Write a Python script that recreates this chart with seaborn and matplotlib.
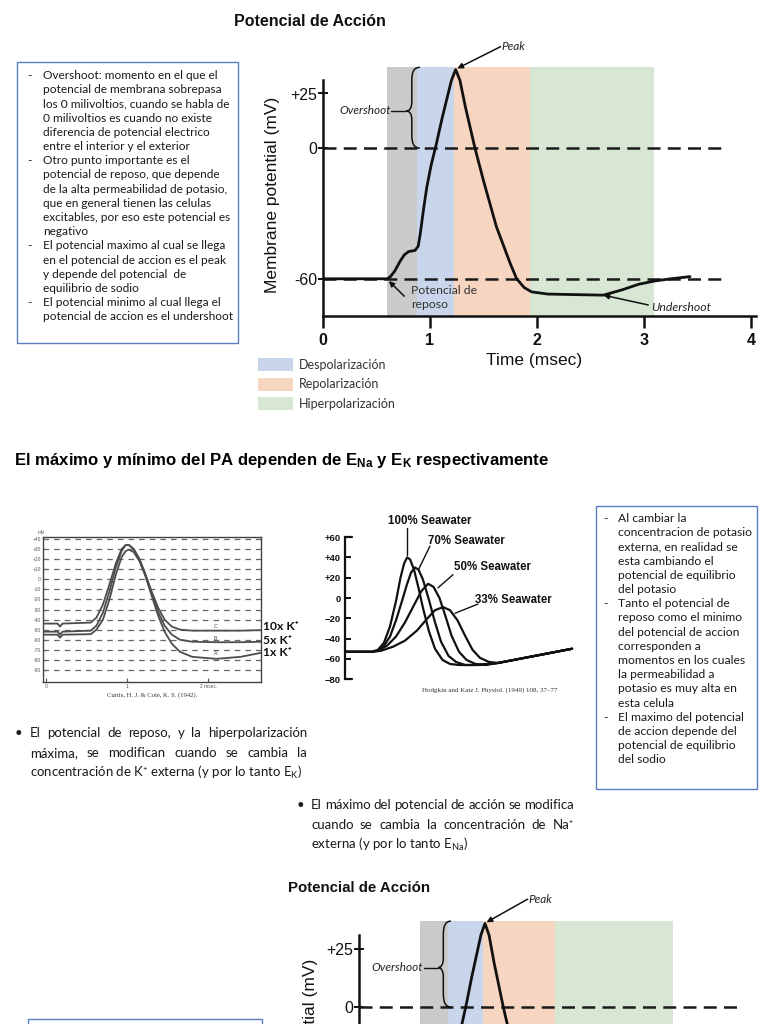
import matplotlib
matplotlib.use("Agg")
import matplotlib.pyplot as plt
import seaborn as sns
from matplotlib import font_manager
from matplotlib.patches import Rectangle, Patch, PathPatch
from matplotlib.path import Path

W, H = 768, 1024

# ---- action potential trace (msec, mV) ----
ap_time = [0.0, 0.60, 0.63, 0.67, 0.72, 0.76, 0.80, 0.86, 0.89, 0.91, 0.94, 0.97, 1.01,
           1.06, 1.11, 1.16, 1.20, 1.24, 1.28, 1.33, 1.42, 1.50, 1.62, 1.75, 1.81, 1.88,
           1.95, 2.10, 2.40, 2.62, 2.80, 2.95, 3.10, 3.25, 3.43]
ap_mv = [-60, -60, -59, -56.5, -52, -49, -47.5, -47, -45, -39, -28, -18, -8,
         2, 13, 23, 31, 36, 31, 19, 0, -15, -36, -53, -60, -64,
         -66, -67, -67.3, -67.5, -65, -62.5, -61, -60, -59]

phase_names = ["Despolarización", "Repolarización", "Hiperpolarización"]
phase_start = [0.88, 1.22, 1.93]
phase_end = [1.22, 1.93, 3.09]
phase_colors = ["#c9d5eb", "#f6d5c1", "#d8e7d4"]
stim_span = [0.60, 0.88]
stim_color = "#cacaca"
ref_levels = [0, -60]
ap_yticks = [-60, 0, 25]
ap_ylabels = ["-60", "0", "+25"]
ap_xticks = [0, 1, 2, 3, 4]

# ---- Curtis & Cole: external K+ (msec, mV) ----
ck_time = [-0.04, 0.14, 0.17, 0.20, 0.55, 0.62, 0.70, 0.78, 0.86, 0.93, 0.98, 1.02,
           1.08, 1.15, 1.22, 1.30, 1.38, 1.46, 1.55, 1.65, 1.80, 2.10, 2.40, 2.65]
ck_10x = [-44, -44, -47, -44, -43, -38, -25, -5, 16, 30, 34, 34,
          30, 20, 6, -12, -28, -40, -47, -50, -51, -51, -51, -50.5]
ck_5x = [-52, -52, -55, -52, -51, -46, -33, -12, 12, 28, 34, 34,
         30, 20, 5, -14, -32, -46, -55, -60, -62, -62.5, -62.5, -62]
ck_1x = [-55, -55, -58, -55, -54.5, -50, -40, -20, 5, 22, 28, 29.5,
         27, 18, 4, -16, -36, -52, -64, -72, -77, -79, -77, -73]
ck_names = ["10x K\u207a", "5x K\u207a", "1x K\u207a"]
ck_letters = ["C", "B", "A"]
ck_grid = [40, 30, 20, 10, 0, -10, -20, -30, -40, -50, -60, -70, -80, -90]
ck_gridlabels = ["+40", "+30", "+20", "+10", "0", "-10", "-20", "-30", "-40",
                 "-50", "-60", "-70", "-80", "-90"]

# ---- Hodgkin & Katz: external Na+ (arbitrary time, mV) ----
hk_t100 = [0, 0.9, 1.1, 1.3, 1.5, 1.7, 1.85, 1.97, 2.07, 2.17, 2.3, 2.45, 2.6, 2.8,
           3.0, 3.25, 3.5, 3.8, 4.3, 5.1, 7.57]
hk_v100 = [-53, -53, -51, -44, -28, -3, 20, 34, 40, 38, 28, 10, -10, -33,
           -50, -61, -65, -66, -66, -64, -50]
hk_t70 = [0, 0.9, 1.1, 1.3, 1.5, 1.7, 1.9, 2.05, 2.2, 2.33, 2.45, 2.6, 2.8, 3.0,
          3.2, 3.45, 3.7, 4.0, 4.5, 5.1, 7.57]
hk_v70 = [-53, -53, -51.5, -47, -38, -22, -3, 12, 25, 30, 28, 18, -2, -24,
          -43, -57, -63, -66, -66, -64, -50]
hk_t50 = [0, 0.9, 1.1, 1.4, 1.7, 2.0, 2.3, 2.55, 2.77, 2.95, 3.15, 3.35, 3.55, 3.8,
          4.05, 4.35, 4.7, 5.1, 7.57]
hk_v50 = [-53, -53, -52, -47, -38, -24, -7, 7, 14, 11, 0, -18, -37, -53,
          -61, -65, -66, -64, -50]
hk_t33 = [0, 0.9, 1.2, 1.6, 2.0, 2.4, 2.75, 3.0, 3.27, 3.5, 3.75, 4.0, 4.25, 4.5,
          4.8, 5.1, 7.57]
hk_v33 = [-53, -53, -52, -48, -42, -32, -20, -12, -9, -12, -22, -37, -51, -59,
          -63, -64, -50]
hk_names = ["100% Seawater", "70% Seawater", "50% Seawater", "33% Seawater"]
hk_ticks = [60, 40, 20, 0, -20, -40, -60, -80]
hk_ticklabels = ["+60", "+40", "+20", "0", "\u221220", "\u221240", "\u221260", "\u221280"]

# ---- slide text ----
left_notes = [
    ["Overshoot: momento en el que el", "potencial de membrana sobrepasa",
     "los 0 milivoltios, cuando se habla de", "0 milivoltios es cuando no existe",
     "diferencia de potencial electrico", "entre el interior y el exterior"],
    ["Otro punto importante es el", "potencial de reposo, que depende",
     "de la alta permeabilidad de potasio,", "que en general tienen las celulas",
     "excitables, por eso este potencial es", "negativo"],
    ["El potencial maximo al cual se llega", "en el potencial de accion es el peak",
     "y depende del potencial  de", "equilibrio de sodio"],
    ["El potencial minimo al cual llega el", "potencial de accion es el undershoot"],
]
right_notes = [
    ["Al cambiar la", "concentracion de potasio", "externa, en realidad se",
     "esta cambiando el", "potencial de equilibrio", "del potasio"],
    ["Tanto el potencial de", "reposo como el minimo", "del potencial de accion",
     "corresponden a", "momentos en los cuales", "la permeabilidad a",
     "potasio es muy alta en", "esta celula"],
    ["El maximo del potencial", "de accion depende del", "potencial de equilibrio",
     "del sodio"],
]
bullet_k = ["El potencial de reposo, y la hiperpolarización",
            "máxima, se modifican cuando se cambia la",
            "concentración de K\u207a externa (y por lo tanto $\\mathregular{E_K}$)"]
bullet_na = ["El máximo del potencial de acción se modifica",
             "cuando se cambia la concentración de Na\u207a",
             "externa (y por lo tanto $\\mathregular{E_{Na}}$)"]
heading = (r"El máximo y mínimo del PA dependen de $\mathregular{E_{Na}}$ y "
           r"$\mathregular{E_K}$ respectivamente")

sns.set_theme(style="white")
plt.rcParams["font.family"] = ["Liberation Sans", "DejaVu Sans"]
for key in ("text.color", "axes.labelcolor", "xtick.color", "ytick.color"):
    plt.rcParams[key] = "#111111"
BODY = ["Lato", "DejaVu Sans"]
BOX_EDGE = "#5b7ec2"

fig = plt.figure(figsize=(7.68, 10.24), dpi=100)
fig.patch.set_facecolor("white")
renderer = fig.canvas.get_renderer()


def rect(l, t, r, b):
    return [l / W, 1 - b / H, (r - l) / W, (b - t) / H]


def fpt(x, y):
    return (x / W, 1 - y / H)


def draw_ap(ax):
    ax.set_facecolor("none")
    ax.axvspan(*stim_span, color=stim_color, lw=0, zorder=0)
    for a, b, c in zip(phase_start, phase_end, phase_colors):
        ax.axvspan(a, b, color=c, lw=0, zorder=0)
    for lvl in ref_levels:
        ax.plot([0, 3.77], [lvl, lvl], color="#1a1a1a", lw=1.8,
                ls=(0, (5.2, 2.9)), zorder=2)
    sns.lineplot(x=ap_time, y=ap_mv, ax=ax, color="#111111", lw=2.0, zorder=3)
    ax.set_xlim(0, 4.1)
    ax.set_ylim(-77, 37)
    sns.despine(ax=ax)
    for side in ("left", "bottom"):
        ax.spines[side].set_linewidth(1.8)
        ax.spines[side].set_color("#111111")
    ax.spines["left"].set_bounds(-77, 31)
    ax.spines["bottom"].set_bounds(0, 4.05)
    ax.set_yticks(ap_yticks, labels=ap_ylabels)
    ax.set_xticks(ap_xticks)
    ax.tick_params(axis="y", left=True, direction="inout", length=6.5, width=1.4,
                   labelsize=11.5, pad=1)
    ax.tick_params(axis="x", bottom=True, direction="out", length=8.5, width=1.8,
                   labelsize=11.5, pad=4)
    for lab in ax.get_xticklabels():
        lab.set_fontweight("bold")
    ax.set_xlabel("Time (msec)", fontsize=12.5)
    ax.xaxis.set_label_coords(0.48, -0.15)
    ax.set_ylabel("Membrane potential (mV)", fontsize=12.5)
    ax.yaxis.set_label_coords(-0.098, 0.488)

    # overshoot brace
    verts = [(0.905, 37), (0.85, 37), (0.83, 35), (0.83, 31), (0.83, 21),
             (0.83, 18.5), (0.81, 17), (0.78, 17),
             (0.81, 17), (0.83, 15.5), (0.83, 13), (0.83, 6),
             (0.83, 2), (0.85, 0), (0.905, 0)]
    codes = [Path.MOVETO, Path.CURVE4, Path.CURVE4, Path.CURVE4, Path.LINETO,
             Path.CURVE4, Path.CURVE4, Path.CURVE4,
             Path.CURVE4, Path.CURVE4, Path.CURVE4, Path.LINETO,
             Path.CURVE4, Path.CURVE4, Path.CURVE4]
    ax.add_patch(PathPatch(Path(verts, codes), fc="none", ec="#111111", lw=1.1,
                           zorder=4, clip_on=False))
    ax.plot([0.635, 0.78], [17, 17], color="#111111", lw=1.0, zorder=4)
    ax.text(0.63, 17, "Overshoot", ha="right", va="center", fontsize=8.5,
            style="italic", family=BODY, color="#222222")

    arrow = dict(arrowstyle="-|>", color="#111111", lw=1.1, mutation_scale=8,
                 shrinkA=0, shrinkB=0)
    ax.annotate("", xy=(1.255, 36.5), xytext=(1.66, 46.5), arrowprops=arrow,
                annotation_clip=False)
    ax.text(1.67, 46.5, "Peak", ha="left", va="center", fontsize=8.5,
            style="italic", family=BODY, color="#222222", clip_on=False)
    ax.annotate("", xy=(0.615, -61), xytext=(0.76, -68), arrowprops=arrow)
    ax.text(0.82, -68.6, "Potencial de\nreposo", ha="left", va="center",
            fontsize=8.8, family=BODY, color="#333333", linespacing=1.4)
    ax.annotate("", xy=(2.62, -67.5), xytext=(3.04, -72), arrowprops=arrow)
    ax.text(3.07, -73, "Undershoot", ha="left", va="center", fontsize=8.8,
            style="italic", family=BODY, color="#222222")


# ---- top action potential ----
ax_top = fig.add_axes(rect(323, 148 - 37 * 2.18, 323 + 4.1 * 107, 148 + 77 * 2.18))
draw_ap(ax_top)
fig.text(*fpt(310, 22), "Potencial de Acción", ha="center", va="center",
         fontsize=11.5, fontweight="bold")
handles = [Patch(facecolor=c, edgecolor="none") for c in phase_colors]
fig.legend(handles, phase_names, loc="upper left", bbox_to_anchor=fpt(258, 358),
           frameon=False, prop={"family": BODY, "size": 9}, handlelength=2.8,
           handleheight=1.2, labelspacing=0.55, handletextpad=0.45,
           borderaxespad=0, borderpad=0, labelcolor="#333333")

# ---- bottom (repeated, cut off) action potential ----
ax_bot = fig.add_axes(rect(359, 1007 - 37 * 2.32, 359 + 4.1 * 101.6, 1007 + 77 * 2.32))
draw_ap(ax_bot)
fig.text(*fpt(359, 888), "Potencial de Acción", ha="center", va="center",
         fontsize=10.8, fontweight="bold")


def note_box(l, t, r, b, items, x_dash, x_text, y0, step, size):
    fig.add_artist(Rectangle(fpt(l, b), (r - l) / W, (b - t) / H, fill=False,
                             ec=BOX_EDGE, lw=1.0, transform=fig.transFigure))
    i = 0
    for item in items:
        for j, line in enumerate(item):
            y = y0 + i * step
            if j == 0:
                fig.text(*fpt(x_dash, y), "-", ha="left", va="baseline",
                         fontsize=size, family=BODY, color="#1a1a1a")
            fig.text(*fpt(x_text, y), line, ha="left", va="baseline",
                     fontsize=size, family=BODY, color="#1a1a1a")
            i += 1


note_box(17, 62, 238, 343, left_notes, 27, 43, 79, 14.2, 8.6)
note_box(596, 506, 757, 789, right_notes, 603, 618, 522, 14.2, 8.7)
# cut-off box at the bottom left
fig.add_artist(Rectangle(fpt(28, 1090), 234 / W, 71 / H, fill=False, ec=BOX_EDGE,
                         lw=1.0, transform=fig.transFigure))

# ---- heading ----
head_font = "Liberation Sans"
names = {f.name for f in font_manager.fontManager.ttflist}
if "Liberation Sans Narrow" in names:
    head_font = "Liberation Sans Narrow"
head = fig.text(*fpt(14, 465), heading, ha="left", va="baseline", fontsize=12,
                fontweight="bold", family=head_font, color="#000000")
wd = head.get_window_extent(renderer).width
head.set_fontsize(12 * 532 / wd)


# ---- justified bullets ----
def justify(x0, x1, y, text, size):
    words = text.split(" ")
    arts = [fig.text(0, 0, w, ha="left", va="baseline", fontsize=size, family=BODY,
                     color="#1a1a1a") for w in words]
    widths = [a.get_window_extent(renderer).width for a in arts]
    gap = (x1 - x0 - sum(widths)) / (len(words) - 1)
    x = x0
    for a, w in zip(arts, widths):
        a.set_position(fpt(x, y))
        x += w + gap


def bullet(lines, xb, x0, x1, y0, step, size):
    fig.text(*fpt(xb, y0), "\u2022", ha="left", va="baseline", fontsize=size,
             family=BODY, color="#1a1a1a")
    for i, line in enumerate(lines):
        y = y0 + i * step
        if i < len(lines) - 1:
            justify(x0, x1, y, line, size)
        else:
            fig.text(*fpt(x0, y), line, ha="left", va="baseline", fontsize=size,
                     family=BODY, color="#1a1a1a")


bullet(bullet_k, 15, 30, 307, 737, 20, 9.5)
bullet(bullet_na, 297, 311, 574, 809, 20, 9.5)

# ---- Curtis & Cole panel ----
ax_ck = fig.add_axes(rect(43, 537, 261, 682))
for lvl in ck_grid:
    ax_ck.axhline(lvl, color="#666666", lw=0.9, ls=(0, (4.5, 4)), zorder=1)
for vals in (ck_10x, ck_5x, ck_1x):
    sns.lineplot(x=ck_time, y=vals, ax=ax_ck, color="#4d4d4d", lw=1.3, zorder=3)
ax_ck.set_xlim(-0.04, 2.65)
ax_ck.set_ylim(-102, 42)
for s in ax_ck.spines.values():
    s.set_linewidth(1.0)
    s.set_color("#444444")
ax_ck.set_yticks(ck_grid, labels=ck_gridlabels)
ax_ck.set_xticks([0, 1, 2], labels=["0", "1", "2 msec."])
ax_ck.tick_params(axis="both", left=True, bottom=True, direction="in", length=3,
                  width=0.8, labelsize=3.5, pad=1.5, colors="#555555")
ax_ck.text(-0.11, 44, "mV", fontsize=3.5, color="#555555", ha="left", va="bottom",
           clip_on=False)
for name, y in zip(ck_names, [627, 640, 653]):
    fig.text(*fpt(263, y), name, ha="left", va="center", fontsize=8.7,
             fontweight="bold", family=BODY, color="#111111")
for letter, vals, dy in zip(ck_letters, (ck_10x, ck_5x, ck_1x), (4, 4, 5)):
    ax_ck.text(2.09, vals[-3] + dy, letter, fontsize=3.8, color="#444444",
               ha="center", va="center")
fig.text(*fpt(152, 695), "Curtis, H. J. & Cole, K. S. (1942).", ha="center",
         va="center", fontsize=4.8, family="Liberation Serif", color="#333333")

# ---- Hodgkin & Katz panel ----
ax_hk = fig.add_axes(rect(345, 598 - 82 * 1.015, 345 + 7.8 * 30, 598 + 85 * 1.015))
ax_hk.set_facecolor("none")
for tt, vv in ((hk_t100, hk_v100), (hk_t70, hk_v70), (hk_t50, hk_v50), (hk_t33, hk_v33)):
    sns.lineplot(x=tt, y=vv, ax=ax_hk, color="#111111", lw=1.6, zorder=3)
ax_hk.set_xlim(0, 7.8)
ax_hk.set_ylim(-85, 82)
sns.despine(ax=ax_hk, bottom=True)
ax_hk.spines["left"].set_bounds(-80, 60)
ax_hk.spines["left"].set_linewidth(1.6)
ax_hk.spines["left"].set_color("#111111")
ax_hk.plot([0, 0.22], [60, 60], color="#111111", lw=1.6, clip_on=False)
ax_hk.plot([0, 0.22], [-80, -80], color="#111111", lw=1.6, clip_on=False)
ax_hk.set_xticks([])
ax_hk.set_yticks(hk_ticks, labels=hk_ticklabels)
ax_hk.tick_params(axis="y", left=True, direction="in", length=4, width=1.4,
                  labelsize=6.8, pad=3)
for lab in ax_hk.get_yticklabels():
    lab.set_fontweight("bold")
hk_label_xy = [(2.83, 76), (4.03, 56), (4.93, 30.5), (5.6, -2)]
hk_leaders = [((2.07, 69), (2.07, 42)), ((2.83, 51), (2.45, 28)),
              ((3.6, 23), (3.1, 10)), ((4.43, -6), (3.67, -15))]
for name, (x, y), (p0, p1) in zip(hk_names, hk_label_xy, hk_leaders):
    ax_hk.text(x, y, name, ha="center", va="center", fontsize=8.3, fontweight="bold",
               clip_on=False)
    ax_hk.plot([p0[0], p1[0]], [p0[1], p1[1]], color="#111111", lw=1.0, zorder=4)
fig.text(*fpt(490, 690), "Hodgkin and Katz J. Physiol. (1949) 108, 37\u201377",
         ha="center", va="center", fontsize=5, family="Liberation Serif",
         color="#333333")

fig.savefig("out.png", dpi=100, facecolor="white")
